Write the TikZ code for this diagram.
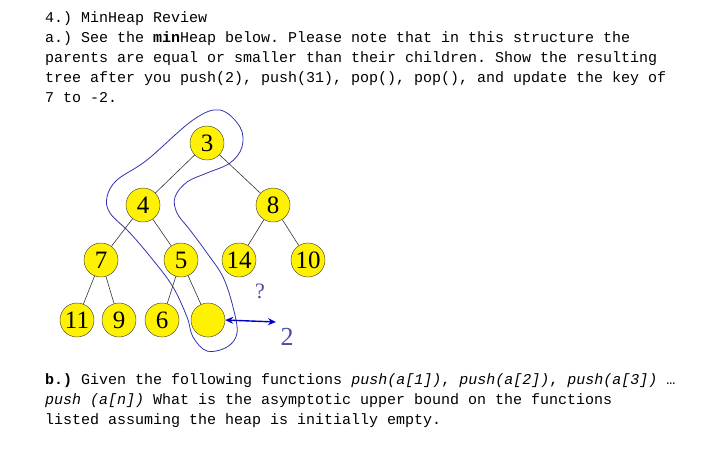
\documentclass[tikz,border=0pt]{standalone}
\usepackage{fontspec}
\setmonofont{Liberation Mono}
\setmainfont{Liberation Serif}
\usetikzlibrary{arrows.meta}
\begin{document}
\begin{tikzpicture}[x=1pt,y=-1pt,
  hn/.style={circle,draw=black!80,fill=yellow,minimum size=34pt,inner sep=0pt,font=\fontsize{25}{25}\selectfont},
  txt/.style={anchor=base west,inner sep=0pt,font=\ttfamily\fontsize{15}{16}\selectfont},
  edge/.style={draw=black!80,line width=0.6pt}]
\useasboundingbox (0,0) rectangle (706,472);
\node[txt] (l1) at (45,22) {4.) MinHeap Review};
\node[txt] (l2) at (45,42) {a.) See the \textbf{min}Heap below. Please note that in this structure the};
\node[txt] (l3) at (45,62) {parents are equal or smaller than their children. Show the resulting};
\node[txt] (l4) at (45,82) {tree after you push(2), push(31), pop(), pop(), and update the key of};
\node[txt] (l5) at (45,102) {7 to -2.};
\node[txt] (b1) at (45,384) {\textbf{b.)} Given the following functions \textit{push(a[1])}, \textit{push(a[2])}, \textit{push(a[3])} …};
\node[txt] (b2) at (45,404) {\textit{push (a[n])} What is the asymptotic upper bound on the functions};
\node[txt] (b3) at (45,424) {listed assuming the heap is initially empty.};
\draw[blue!60!black!80,line width=0.8pt] plot[smooth cycle,tension=0.6] coordinates {
(240,127)(242,147)(230,163)(207,173)(187,182)(175,197)(177,213)(190,230)(207,253)(223,277)(233,307)(237,333)(227,347)(207,351)(193,337)(187,317)(173,287)(153,260)(130,233)(110,213)(107,197)(117,180)(147,160)(193,120)(220,110)};
\node[hn] (n3) at (207,143) {3};
\node[hn] (n4) at (143,205) {4};
\node[hn] (n8) at (273,205) {8};
\node[hn] (n7) at (101,260) {7};
\node[hn] (n5) at (181,260) {5};
\node[hn] (n14) at (239,260) {14};
\node[hn] (n10) at (308,260) {10};
\node[hn] (n11) at (77,320) {11};
\node[hn] (n9) at (119,320) {9};
\node[hn] (n6) at (162,320) {6};
\node[hn] (ne) at (208,320) {};
\foreach \a/\b in {n3/n4,n3/n8,n4/n7,n4/n5,n8/n14,n8/n10,n7/n11,n7/n9,n5/n6,n5/ne} \draw[edge] (\a)--(\b);
\node[font=\fontsize{22}{22}\selectfont,text=blue!50!black!70] (q) at (260,291) {?};
\node[font=\fontsize{26}{26}\selectfont,text=blue!50!black!70] (two) at (287,337) {2};
\coordinate (ae) at (276,322);
\draw[blue!80!black,line width=1.4pt,{Stealth[length=8pt,width=7pt]}-{Stealth[length=8pt,width=7pt]}] (ne.east)--(ae);
\end{tikzpicture}
\end{document}
